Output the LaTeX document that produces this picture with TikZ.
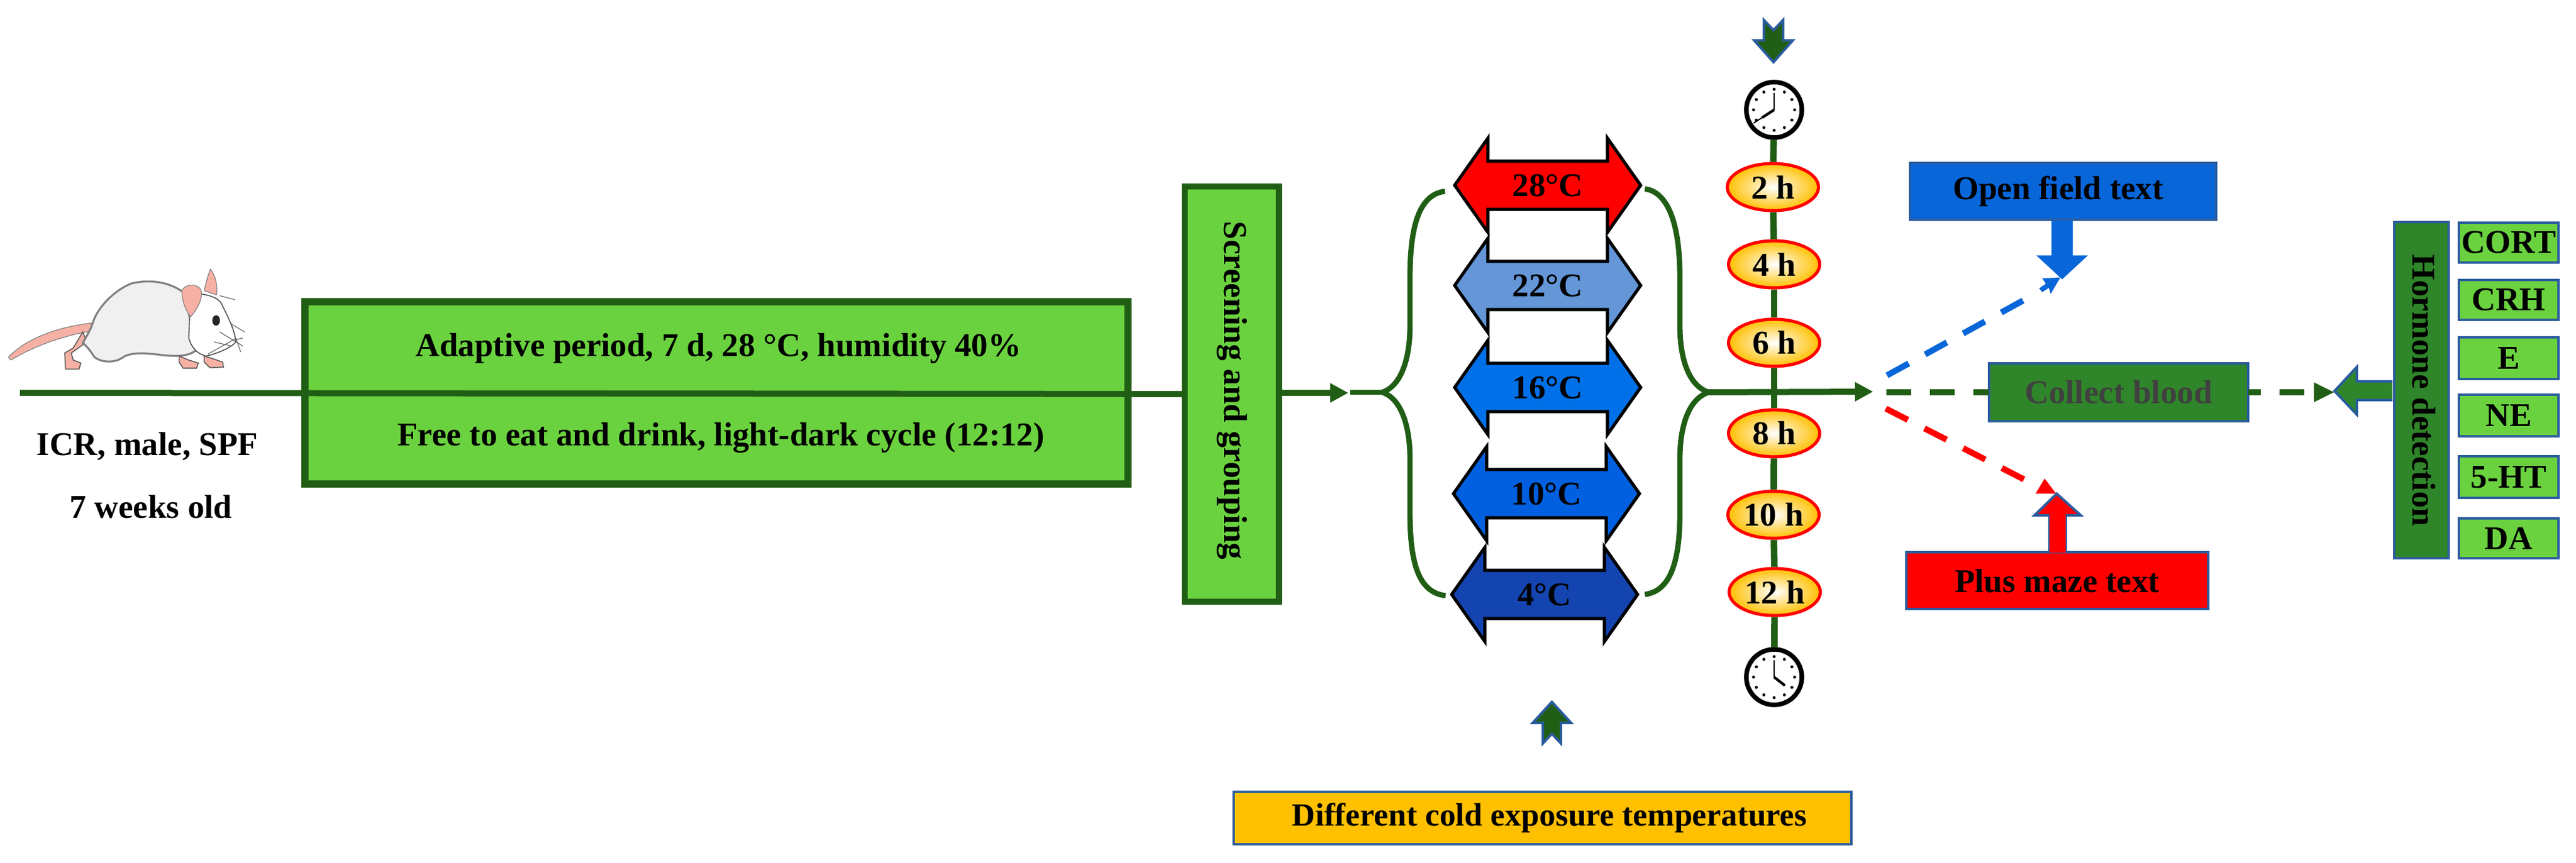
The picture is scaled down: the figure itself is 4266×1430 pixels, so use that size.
\documentclass[tikz,border=0pt]{standalone}
\usepackage{fontspec}
\setmainfont{Liberation Serif}
\usetikzlibrary{arrows.meta,shapes.geometric}
\definecolor{dkgreen}{HTML}{215E15}
\definecolor{ltgreen}{HTML}{6BD23F}
\definecolor{midgreen}{HTML}{2F8529}
\definecolor{bord}{HTML}{2A5C9E}
\definecolor{gold}{HTML}{FFC000}
\definecolor{bluebox}{HTML}{0866D9}
\definecolor{tempA}{HTML}{FF0000}
\definecolor{tempB}{HTML}{6496D8}
\definecolor{tempC}{HTML}{0070E8}
\definecolor{tempD}{HTML}{0060E0}
\definecolor{tempE}{HTML}{1444B0}
\definecolor{mousepink}{HTML}{F7B0A4}
\def\pxu{0.25pt}
\tikzset{
  x=0.25pt,y=-0.25pt,
  lab/.style={font=\fontsize{13.75}{16}\selectfont\bfseries,inner sep=0pt,align=center},
  cable/.style={draw=dkgreen,line width=2.5pt},
  brace/.style={draw=dkgreen,line width=2.2pt,line cap=butt},
  dashline/.style={line width=2.5pt,dash pattern=on 10.25pt off 7.75pt},
  hexa/.style={draw=black,line width=1.3pt,line join=miter,miter limit=10},
  bluedge/.style={draw=bord,line width=1pt,line join=miter},
  timeoval/.style={draw=red,line width=1.3pt,ellipse,minimum width=151*\pxu,minimum height=78*\pxu,inner sep=0pt,
     inner color=white,outer color=gold,font=\fontsize{13.75}{16}\selectfont\bfseries},
  clockface/.style={circle,draw=black,fill=white,line width=1.9pt,minimum size=92*\pxu,inner sep=0pt},
}
% [opts]{name}{border px}{x1}{y1}{x2}{y2}{text}: x,y are the outer edges
\newcommand{\rbox}[8][]{%
  \pgfmathsetmacro\rcx{(#4+#6)/2}\pgfmathsetmacro\rcy{(#5+#7)/2}%
  \pgfmathsetmacro\rw{#6-#4-#3}\pgfmathsetmacro\rh{#7-#5-#3}%
  \node[lab,rectangle,outer sep=0pt,line width=#3*\pxu,minimum width=\rw*\pxu,minimum height=\rh*\pxu,#1] (#2) at (\rcx,\rcy) {#8};}
% {name}{y}{x-offset}{colour}{text}
\newcommand{\temparrow}[5]{%
  \pgfmathsetmacro\tl{2407+#3}\pgfmathsetmacro\ta{2462+#3}\pgfmathsetmacro\tb{2660+#3}\pgfmathsetmacro\tr{2715+#3}%
  \pgfmathsetmacro\ya{#2-78}\pgfmathsetmacro\yb{#2-40}\pgfmathsetmacro\yc{#2+40}\pgfmathsetmacro\yd{#2+78}%
  \draw[hexa,fill=#4] (\tl,#2) -- (\ta,\ya) -- (\ta,\yb) -- (\tb,\yb) -- (\tb,\ya) -- (\tr,#2) -- (\tb,\yd) -- (\tb,\yc) -- (\ta,\yc) -- (\ta,\yd) -- cycle;
  \node[lab] (#1) at (\tl/2+\tr/2,#2) {#5};}
\begin{document}
\begin{tikzpicture}
\useasboundingbox (0,0) rectangle (4266,1430);
\fill[white] (0,0) rectangle (4266,1430);

% mouse
\begin{scope}[shift={(0,400)},xscale=0.638,yscale=0.3333]
  \draw[draw=gray,line width=.3pt,fill=mousepink] (242,405) .. controls (150,425) and (70,480) .. (22,575) -- (28,590) .. controls (90,520) and (160,470) .. (240,445) -- cycle;
  \draw[draw=gray!70!black,line width=.4pt,fill=mousepink] (215,450) -- (190,530) -- (168,555) -- (170,635) -- (205,635) -- (210,605) -- (190,590) -- (185,555) -- (225,500) -- cycle;
  \draw[draw=gray,line width=.8pt,fill=black!6] (240,410) .. controls (250,340) and (290,250) .. (340,210) .. controls (380,190) and (430,195) .. (470,245) -- (540,300) -- (520,520) .. controls (500,570) and (470,575) .. (420,565) .. controls (380,555) and (340,550) .. (320,575) .. controls (300,605) and (265,605) .. (245,575) .. controls (235,545) and (225,520) .. (215,505) .. controls (225,470) and (235,440) .. (240,410) -- cycle;
  \draw[draw=black!70,line width=.4pt,fill=white] (475,250) .. controls (510,260) and (560,260) .. (575,310) .. controls (590,370) and (610,440) .. (612,500) .. controls (600,530) and (560,560) .. (535,570) .. controls (510,560) and (495,520) .. (490,480) -- (492,380) -- cycle;
  \draw[draw=gray,line width=.3pt,fill=mousepink] (530,245) .. controls (535,200) and (540,170) .. (546,138) .. controls (560,170) and (565,220) .. (562,265) .. controls (550,260) and (540,250) .. (530,245) -- cycle;
  \draw[draw=gray,line width=.3pt,fill=mousepink] (472,245) .. controls (480,215) and (505,205) .. (520,235) .. controls (530,270) and (515,330) .. (495,375) .. controls (480,340) and (472,290) .. (472,245) -- cycle;
  \fill[black!85] (561,393) ellipse (10 and 26);
  \draw[black!60,line width=.3pt] (540,560) -- (610,485) (570,450) -- (630,520) (612,490) -- (630,480) (570,270) -- (610,290) (600,410) -- (635,450) (555,500) -- (600,520) (612,480) -- (625,550);
  \draw[draw=gray!70!black,line width=.4pt,fill=mousepink] (465,570) -- (465,600) -- (475,630) -- (510,630) -- (515,605) -- (490,590) -- cycle;
  \draw[draw=gray!70!black,line width=.4pt,fill=mousepink] (530,570) -- (530,600) -- (545,628) -- (580,625) -- (578,600) -- (555,585) -- cycle;
\end{scope}

\node[lab] (strain) at (244,740) {ICR, male, SPF};
\node[lab] (age) at (250,840) {7 weeks old};

% main boxes
\rbox[draw=dkgreen,fill=ltgreen]{adapt}{12}{499}{494}{1874}{808}{}
\node[lab] (adapttext) at (1190,577) {Adaptive period, 7 d, 28 °C, humidity 40\%};
\node[lab] (freetext) at (1194,725) {Free to eat and drink, light-dark cycle (12:12)};
\rbox[draw=dkgreen,fill=ltgreen]{screen}{10}{1957}{304}{2123}{1002}{}
\node[lab,rotate=-90] (screentext) at (2040,647) {Screening and grouping};

\coordinate (start) at (33,651);
\draw[cable] (start) -- (screen.west);
\coordinate (bl) at (2236,650);
\draw[cable,-{Triangle[length=7.5pt,width=7.5pt]}] (screen.east |- start) -- (2233,651);

% temperature arrows
\temparrow{tA}{307}{2}{tempA}{28°C}
\temparrow{tB}{473}{2}{tempB}{22°C}
\temparrow{tC}{642}{2}{tempC}{16°C}
\temparrow{tD}{818}{0}{tempD}{10°C}
\temparrow{tE}{985}{-3}{tempE}{4°C}

% braces
\draw[brace] (bl) -- (2289,650);
\draw[brace] (2393,317) .. controls (2352,322) and (2335,370) .. (2335,460) -- (2335,540) .. controls (2335,595) and (2320,640) .. (2289,650) .. controls (2320,660) and (2335,705) .. (2335,760) -- (2335,850) .. controls (2335,940) and (2352,982) .. (2394,987);
\coordinate (br) at (2830,650);
\draw[brace] (2724,313) .. controls (2762,318) and (2782,370) .. (2782,460) -- (2782,540) .. controls (2782,595) and (2797,640) .. (br) .. controls (2797,660) and (2782,705) .. (2782,760) -- (2782,850) .. controls (2782,940) and (2762,980) .. (2724,985);

% timeline
\node[clockface] (clockA) at (2938,182) {};
\node[clockface] (clockB) at (2938,1122) {};
\node[timeoval] (h2) at (2936,310) {2 h};
\node[timeoval] (h4) at (2938,438) {4 h};
\node[timeoval] (h6) at (2938,568) {6 h};
\node[timeoval] (h8) at (2938,718) {8 h};
\node[timeoval] (h10) at (2937,853) {10 h};
\node[timeoval] (h12) at (2939,981) {12 h};
\foreach \a/\b in {clockA/h2,h2/h4,h4/h6,h6/h8,h8/h10,h10/h12,h12/clockB}
  \draw[draw=dkgreen,line width=2.7pt] (\a) -- (\b);
\foreach \k in {clockA,clockB}{
  \foreach \t in {0,30,...,330}
    \fill[black] (\k.center) ++(\t:34) circle (2.5);
  \draw[line width=.7pt] (\k.center) -- ++(0,-28);
}
\draw[line width=1.1pt] (clockA.center) -- ++(-20,13);
\draw[line width=.5pt] (clockA.center) ++(-20,13) -- ++(-14,9);
\draw[line width=1.1pt] (clockB.center) -- ++(18,14);

% outflow
\coordinate (tip) at (3102,649);
\draw[cable,-{Triangle[length=7.5pt,width=7.5pt]}] (br) -- (tip);

% side boxes
\rbox[bluedge,fill=bluebox]{open}{4}{3161}{268}{3672}{366}{Open field text\hspace{4pt}}
\rbox[bluedge,fill=red]{plus}{5}{3154}{913}{3659}{1012}{Plus maze text}
\rbox[bluedge,fill=midgreen,text=black!75]{blood}{6}{3291}{599}{3726}{701}{Collect blood}
\rbox[bluedge,fill=gold,font=\fontsize{13.4}{16}\selectfont\bfseries]{cold}{6}{2040}{1309}{3069}{1402}{\hspace{5.75pt}Different cold exposure temperatures}

% dashed branches
\draw[dashline,draw=bluebox] (3125,622) -- (3352,497);
\fill[bluebox] (3412,460) -- (3382,461) -- (3388,470) -- (3377,478) -- (3382,484) -- (3393,477) -- (3396,487) -- cycle;
\draw[dashline,draw=red] (3123,677) -- (3353,795);
\fill[red] (3386,793) -- (3371,818) -- (3405,818) -- cycle;
\draw[dashline,draw=dkgreen] (3124,650) -- (blood.west |- 3124,650);
\coordinate (hormtip) at (3866,650);
\draw[dashline,draw=dkgreen,dash phase=5pt,-{Triangle[length=8.5pt,width=7.5pt]}] (blood.east |- hormtip) -- (hormtip);

% block arrows
\draw[draw=bluebox,fill=bluebox,line width=.3pt] (3398,366) -- (3398,424) -- (3374,424) -- (3415,462) -- (3456,424) -- (3432,424) -- (3432,366) -- cycle;
\draw[bluedge,fill=red] (3394,913) -- (3394,854) -- (3369,854) -- (3406,818) -- (3446,854) -- (3421,854) -- (3421,913);
\fill[red] (3394,916) -- (3394,850) -- (3421,850) -- (3421,916) -- cycle;
\draw[bluedge,fill=dkgreen] (2937,103) -- (2905,67) -- (2921,67) -- (2921,33) -- (2937,50) -- (2953,33) -- (2953,67) -- (2969,67) -- cycle;
\draw[bluedge,fill=dkgreen] (2570,1163) -- (2538,1198) -- (2555,1198) -- (2555,1232) -- (2570,1216) -- (2585,1232) -- (2585,1198) -- (2602,1198) -- cycle;
\draw[bluedge,fill=midgreen] (3962,632) -- (3903,632) -- (3903,608) -- (3866,648) -- (3903,687) -- (3903,663) -- (3962,663);

% hormones
\rbox[bluedge,fill=midgreen]{horm}{5}{3962}{366}{4057}{928}{}
\node[lab,rotate=-90] (hormtext) at (4014,647) {Hormone detection};
\rbox[bluedge,fill=ltgreen]{cort}{4}{4070}{367}{4239}{437}{CORT}
\rbox[bluedge,fill=ltgreen]{crh}{4}{4070}{462}{4239}{532}{CRH}
\rbox[bluedge,fill=ltgreen]{e}{4}{4070}{557}{4239}{630}{E}
\rbox[bluedge,fill=ltgreen]{ne}{4}{4070}{652}{4239}{725}{NE}
\rbox[bluedge,fill=ltgreen]{ht}{4}{4070}{754}{4239}{827}{5-HT}
\rbox[bluedge,fill=ltgreen]{da}{4}{4070}{857}{4239}{927}{DA}
\end{tikzpicture}
\end{document}
